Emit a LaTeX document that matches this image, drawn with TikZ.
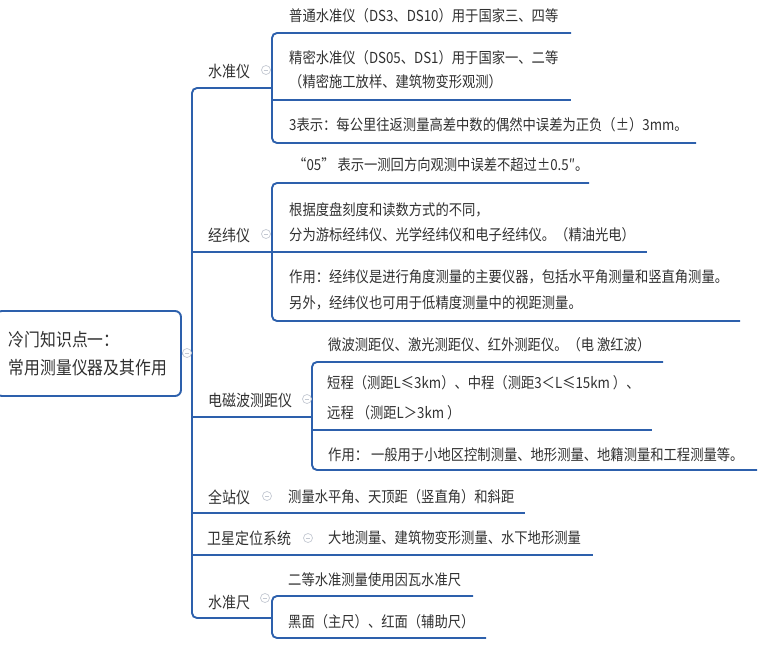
\documentclass[tikz,border=0pt]{standalone}
\usepackage{graphicx}
\usepackage{fontspec}
\setmainfont{Noto Sans CJK SC}
\newcommand{\vs}[1]{\scalebox{1}[1.14]{#1}}
\definecolor{lineblue}{HTML}{2D60AC}
\definecolor{txtgray}{HTML}{303030}
\definecolor{knobgray}{HTML}{C4C9D2}
\begin{document}
\begin{tikzpicture}[x=1pt,y=-1pt,
  link/.style={draw=lineblue,line width=1.9pt,rounded corners=5pt},
  txt/.style={anchor=west,inner sep=0pt,text=txtgray,align=left,font=\fontsize{13.3}{25}\selectfont},
  lbl/.style={anchor=west,inner sep=0pt,text=txtgray,font=\fontsize{14}{17}\selectfont},
  rootbox/.style={draw=lineblue,line width=1.9pt,rounded corners=6pt,fill=white,
    minimum width=185pt,minimum height=85pt,inner xsep=13pt,text width=159pt,
    align=left,text=txtgray,font=\fontsize{15.8}{28}\selectfont},
  knobc/.style={circle,draw=knobgray,fill=white,line width=0.7pt,minimum size=9pt,inner sep=0pt,
    path picture={\draw[knobgray,line width=0.7pt]
      ([xshift=-2.4pt]path picture bounding box.center) --
      ([xshift=2.4pt]path picture bounding box.center);}}
]
\useasboundingbox (0,0) rectangle (760,647);

% root
\node[rootbox] (root) at (88.5,353.5) {\vs{冷门知识点一：}\\\vs{常用测量仪器及其作用}};

% junction coordinates
\coordinate (tr) at (192,353);
\coordinate (j1) at (272,88);
\coordinate (j2) at (272,252);
\coordinate (j3) at (312,417);
\coordinate (j4) at (525,513);
\coordinate (j5) at (593,555);
\coordinate (j6) at (272,618);
% underline ends
\coordinate (u11) at (571,33);
\coordinate (u12) at (571,100);
\coordinate (u13) at (696,143);
\coordinate (u21) at (589,183);
\coordinate (u22) at (647,252);
\coordinate (u23) at (740,321);
\coordinate (u31) at (663,362);
\coordinate (u32) at (652,430);
\coordinate (u33) at (757,470);
\coordinate (u61) at (473,596);
\coordinate (u62) at (486,638);

% trunk
\draw[link] (j1) -- (tr |- j1) -- (tr |- j6) -- (j6);
\draw[link] (root.east) -- (tr);
\draw[link] (tr |- j2) -- (j2);
\draw[link] (tr |- j3) -- (j3);
\draw[link] (tr |- j4) -- (j4);
\draw[link] (tr |- j5) -- (j5);

% brackets
\draw[link] (u11) -- (j1 |- u11) -- (j1 |- u13) -- (u13);
\draw[link] (j1 |- u12) -- (u12);
\draw[link] (u21) -- (j2 |- u21) -- (j2 |- u23) -- (u23);
\draw[link] (j2) -- (u22);
\draw[link] (u31) -- (j3 |- u31) -- (j3 |- u33) -- (u33);
\draw[link] (j3 |- u32) -- (u32);
\draw[link] (u61) -- (j6 |- u61) -- (j6 |- u62) -- (u62);

% branch labels
\node[lbl] (n1) at (208,71) {\vs{水准仪}};
\node[lbl] (n2) at (208,235) {\vs{经纬仪}};
\node[lbl] (n3) at (208,400) {\vs{电磁波测距仪}};
\node[lbl] (n4) at (208,497) {\vs{全站仪}};
\node[lbl] (n5) at (207,538) {\vs{卫星定位系统}};
\node[lbl] (n6) at (208,602) {\vs{水准尺}};

% knobs
\node[knobc] (k0) at (187,353) {};
\node[knobc] (k1) at (266,70) {};
\node[knobc] (k2) at (266,234) {};
\node[knobc] (k3) at (307,399) {};
\node[knobc] (k4) at (267,496) {};
\node[knobc] (k5) at (308,538) {};
\node[knobc] (k6) at (265,598) {};

% children
\node[txt] (c11) at (289,16) {\vs{普通水准仪（DS3、DS10）用于国家三、四等}};
\node[txt,font=\fontsize{13.3}{24}\selectfont] (c12) at (289,70) {\vs{精密水准仪（DS05、DS1）用于国家一、二等}\\\vs{（精密施工放样、建筑物变形观测）}};
\node[txt] (c13) at (289,125) {\vs{3表示：每公里往返测量高差中数的偶然中误差为正负（±）3mm。}};
\node[txt] (c21) at (293,165) {\vs{“05” 表示一测回方向观测中误差不超过±0.5″。}};
\node[txt] (c22) at (289,222.5) {\vs{根据度盘刻度和读数方式的不同，}\\\vs{分为游标经纬仪、光学经纬仪和电子经纬仪。（精油光电）}};
\node[txt,font=\fontsize{13.3}{26}\selectfont] (c23) at (289,290) {\vs{作用：经纬仪是进行角度测量的主要仪器，包括水平角测量和竖直角测量。}\\\vs{另外，经纬仪也可用于低精度测量中的视距测量。}};
\node[txt] (c31) at (328,345) {\vs{微波测距仪、激光测距仪、红外测距仪。（电 激红波）}};
\node[txt,font=\fontsize{13.3}{30}\selectfont] (c32) at (327,398) {\vs{短程（测距L≤3km）、中程（测距3＜L≤15km ）、}\\\vs{远程 （测距L＞3km ）}};
\node[txt] (c33) at (328,455) {\vs{作用： 一般用于小地区控制测量、地形测量、地籍测量和工程测量等。}};
\node[txt] (c41) at (288,497) {\vs{测量水平角、天顶距（竖直角）和斜距}};
\node[txt] (c51) at (328,538) {\vs{大地测量、建筑物变形测量、水下地形测量}};
\node[txt] (c61) at (288,580) {\vs{二等水准测量使用因瓦水准尺}};
\node[txt] (c62) at (288,622) {\vs{黑面（主尺）、红面（辅助尺）}};
\end{tikzpicture}
\end{document}
